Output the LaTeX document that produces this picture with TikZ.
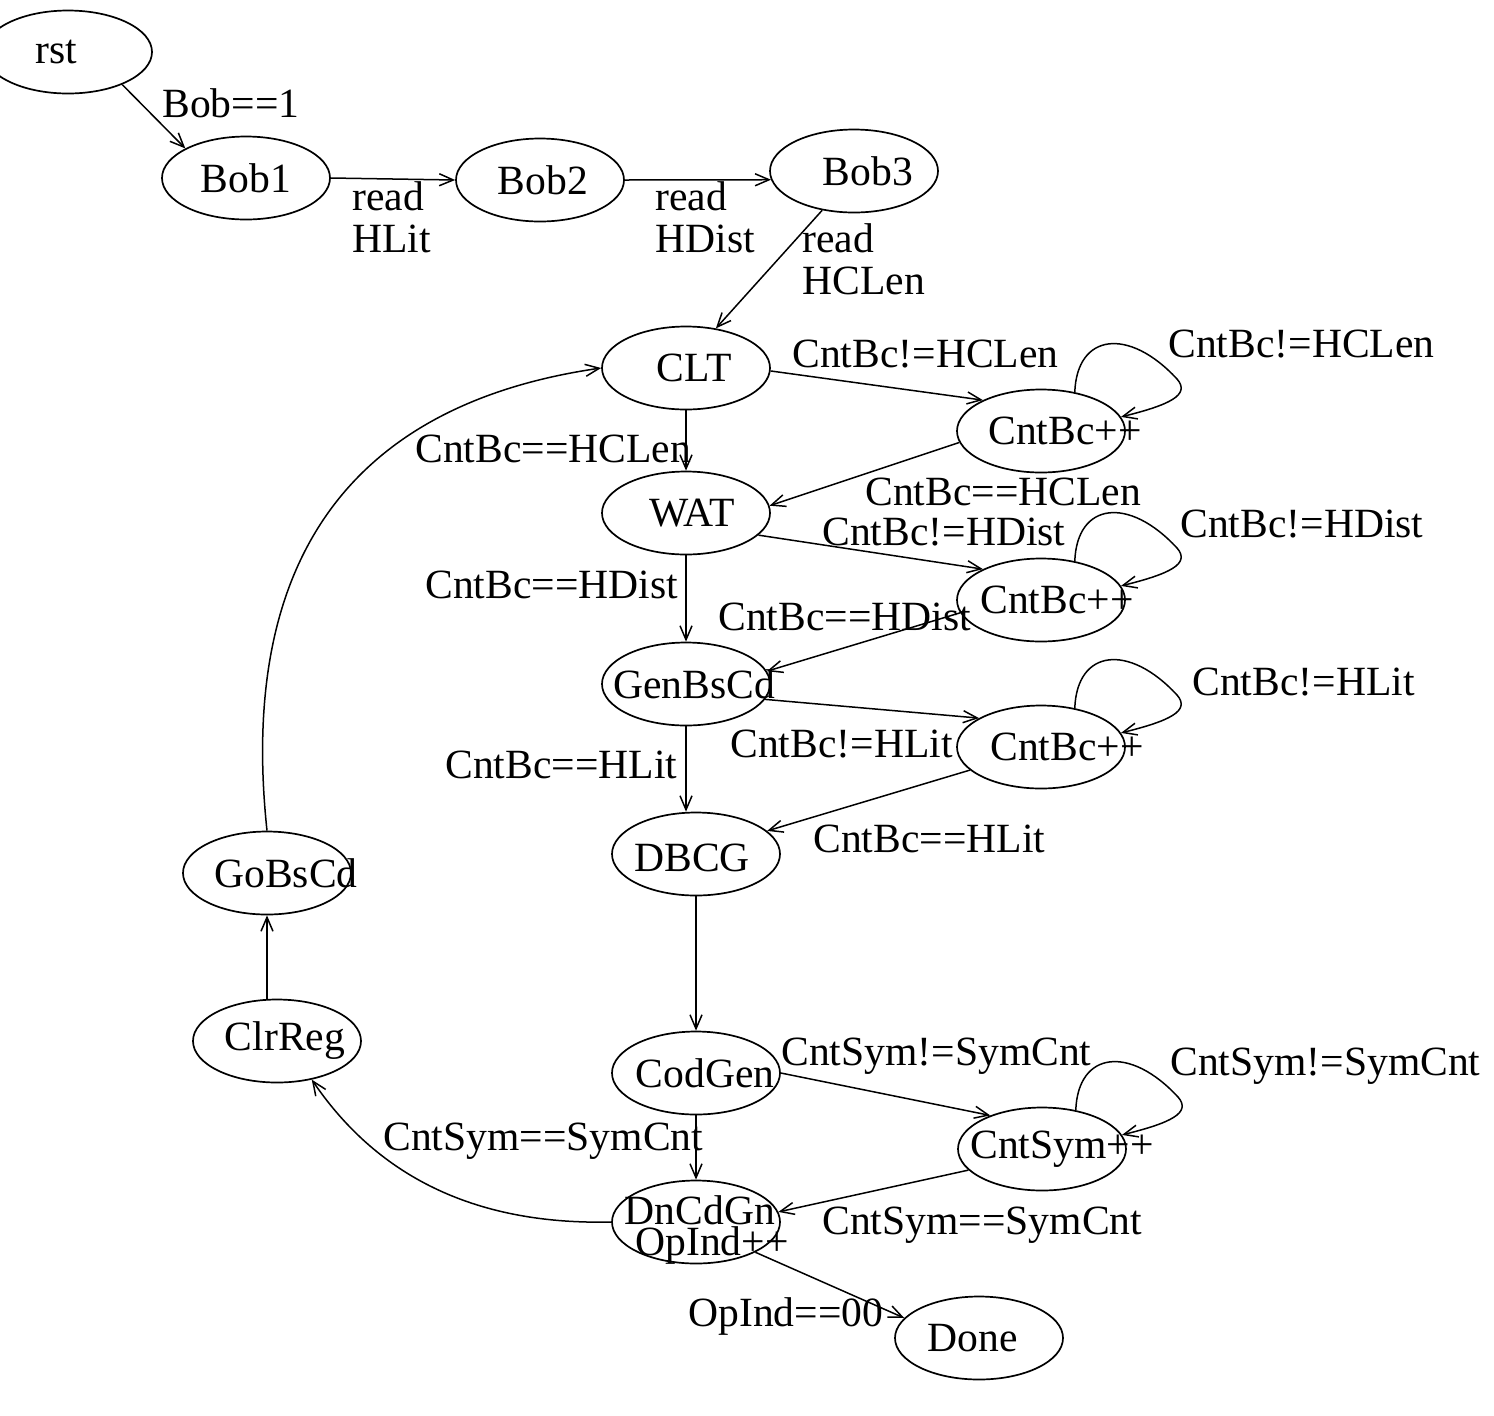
\documentclass[tikz,border=0pt]{standalone}
\usepackage{fontspec}
\setmainfont{Liberation Serif}
\usetikzlibrary{shapes.geometric,arrows.meta,calc}
\begin{document}
\begin{tikzpicture}[x=0.5pt,y=-0.5pt,
  st/.style={draw, ellipse, line width=0.85pt, minimum width=84pt, minimum height=41.5pt, inner sep=0pt},
  arr/.style={line width=0.75pt, -{Straight Barb[length=7pt,width=6pt]}},
  lb/.style={font=\fontsize{20.8}{21}\selectfont, inner sep=0pt},
  el/.style={lb, anchor=base west},
  ]
\useasboundingbox (0,0) rectangle (1494,1415);
% states
\node[st, label={[lb,xshift=-6pt]center:rst}] (rst) at (68,52) {};
\node[st, label={[lb]center:Bob1}] (bob1) at (246,178) {};
\node[st, label={[lb,xshift=1.5pt]center:Bob2}] (bob2) at (540,180) {};
\node[st, label={[lb,xshift=7pt]center:Bob3}] (bob3) at (854,171) {};
\node[st, label={[lb,xshift=4pt]center:CLT}] (clt) at (686,368) {};
\node[st, label={[lb,xshift=12pt]center:CntBc++}] (c1) at (1041,431) {};
\node[st, label={[lb,xshift=3pt]center:WAT}] (wat) at (686,513) {};
\node[st, label={[lb,xshift=8pt]center:CntBc++}] (c2) at (1041,600) {};
\node[st, label={[lb,xshift=4pt]center:GenBsCd}] (gen) at (686,684) {};
\node[st, label={[lb,xshift=13pt]center:CntBc++}] (c3) at (1041,747) {};
\node[st, label={[lb,xshift=-2pt,yshift=-2pt]center:DBCG}] (dbcg) at (696,854) {};
\node[st, label={[lb,xshift=9.5pt]center:GoBsCd}] (gob) at (267,873) {};
\node[st, label={[lb,xshift=4pt]center:ClrReg}] (clr) at (277,1041) {};
\node[st, label={[lb,xshift=4.5pt]center:CodGen}] (cod) at (696,1073) {};
\node[st, label={[lb,xshift=10pt]center:CntSym++}] (cs) at (1042,1149) {};
\node[st, label={[lb,align=center,xshift=2pt,yshift=-4pt,font=\fontsize{20.8}{15.5}\selectfont]center:DnCdGn\\\hspace*{12pt}OpInd++}] (dn) at (696,1222) {};
\node[st, label={[lb,xshift=-3pt]center:Done}] (done) at (979,1338) {};
% edges
\draw[arr] (rst.-31) -- (bob1.154);
\draw[arr] (bob1.east) -- (bob2.west);
\draw[arr] (bob2.east) -- (bob3.186);
\draw[arr] (bob3.-129) -- (clt.53);
\draw[arr] (clt.-2) -- (c1.152);
\draw[arr] (c1.188) -- (wat.5);
\draw[arr] (clt.south) -- (wat.north);
\draw[arr] (wat.-17) -- (c2.152);
\draw[arr] (c2.189) -- (gen.9);
\draw[arr] (wat.south) -- (gen.north);
\draw[arr] (gen.-11) -- (c3.155);
\draw[arr] (c3.198) -- (dbcg.18);
\draw[arr] (gen.south) -- (gen.south |- dbcg.north);
\draw[arr] (dbcg.south) -- (cod.north);
\draw[arr] (cod.east) -- (cs.147);
\draw[arr] (cs.196) -- (dn.7);
\draw[arr] (cod.south) -- (dn.north);
\draw[arr] (dn.-27) -- (done.165);
\draw[arr] (gob.south |- clr.north) -- (gob.south);
\draw[arr] (gob.north) .. controls (235,530) and (380,400) .. (clt.west);
\draw[arr] (dn.west) .. controls (480,1225) and (380,1180) .. (clr.-48);
% self loops
\foreach \n in {c1,c2,c3,cs}{
  \draw[arr] (\n.49) .. controls ($(\n)+(36,-98)$) and ($(\n)+(88,-104)$) .. ($(\n)+(136,-52)$)
     .. controls ($(\n)+(150,-36)$) and ($(\n)+(128,-26)$) .. (\n.10);
}
% edge labels
\node[el] (lbob) at (162,117) {Bob==1};
\node[el, align=left] (l12) at (352,252) {read\\HLit};
\node[el, align=left] (l23) at (655,252) {read\\HDist};
\node[el, align=left] (l3c) at (802,294) {read\\HCLen};
\node[el] (la) at (792,367) {CntBc!=HCLen};
\node[el] (lb1) at (1168,357) {CntBc!=HCLen};
\node[el] (lc) at (865,505) {CntBc==HCLen};
\node[el] (ld) at (415,462) {CntBc==HCLen};
\node[el] (le) at (822,545) {CntBc!=HDist};
\node[el] (lf) at (1180,537) {CntBc!=HDist};
\node[el] (lg) at (425,598) {CntBc==HDist};
\node[el] (lh) at (718,630) {CntBc==HDist};
\node[el] (li) at (730,757) {CntBc!=HLit};
\node[el] (lj) at (1192,695) {CntBc!=HLit};
\node[el] (lk) at (445,778) {CntBc==HLit};
\node[el] (ll) at (813,852) {CntBc==HLit};
\node[el] (lm) at (781,1065) {CntSym!=SymCnt};
\node[el] (ln) at (1170,1075) {CntSym!=SymCnt};
\node[el] (lo) at (383,1150) {CntSym==SymCnt};
\node[el] (lp) at (822,1234) {CntSym==SymCnt};
\node[el] (lq) at (688,1326) {OpInd==00};
\end{tikzpicture}
\end{document}
